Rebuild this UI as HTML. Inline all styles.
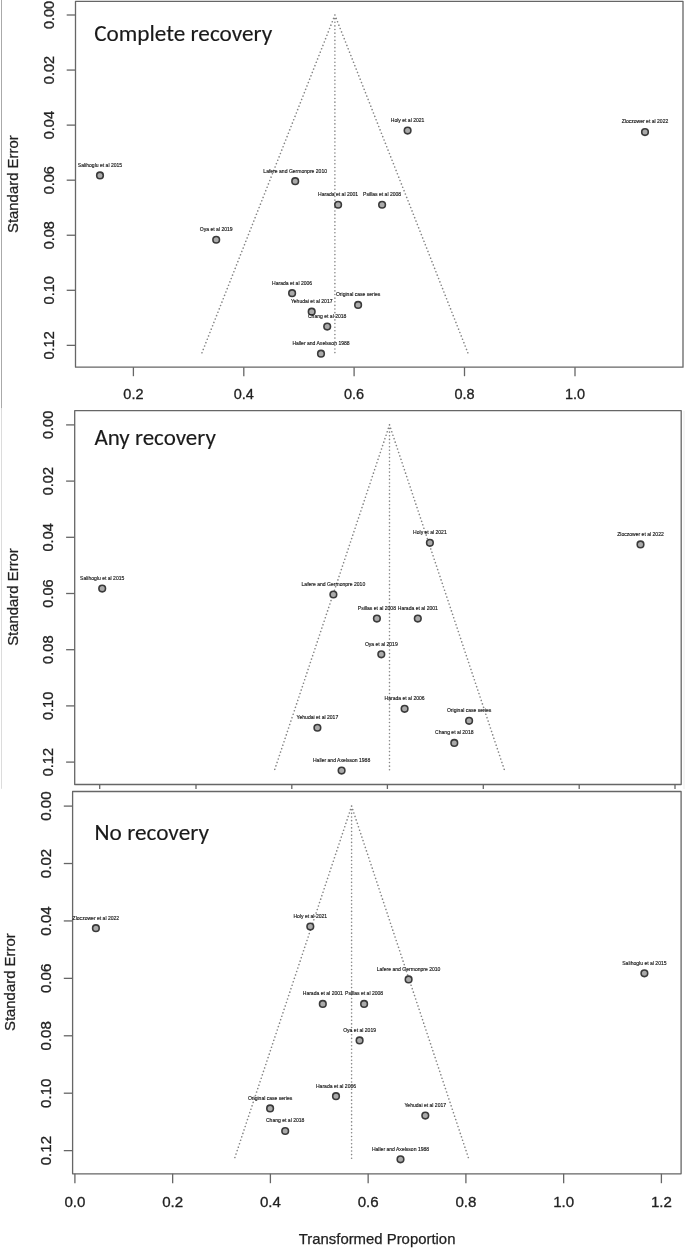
<!DOCTYPE html>
<html><head><meta charset="utf-8"><title>Funnel plots</title>
<style>
html,body{margin:0;padding:0;background:#fff;width:685px;height:1248px;overflow:hidden}
svg{display:block}
text{font-family:"Liberation Sans",Arial,sans-serif;fill:#222}
.tk{stroke:#222;stroke-width:0.3px}
.ax{font-size:14.9px;stroke:#222;stroke-width:0.25px}
.pl{font-size:5.05px;fill:#151515;stroke:#151515;stroke-width:0.14px}
.ttl{font-family:Carlito,"Liberation Sans",Arial,sans-serif;fill:#1a1a1a;stroke:#1a1a1a;stroke-width:0.15px}
.box{fill:none;stroke:#666;stroke-width:1.3;stroke-linejoin:round}
.tick{stroke:#666;stroke-width:1.3}
.fun{fill:none;stroke:#858585;stroke-width:1.6;stroke-dasharray:0.01 3.62;stroke-linecap:round}
.pt{fill:#aaa;stroke:#3a3a3a;stroke-width:1.6}
</style></head><body>
<svg width="685" height="1248" viewBox="0 0 685 1248">
<rect width="685" height="1248" fill="#fff"/>
<g>
<line x1="1.5" y1="0" x2="1.5" y2="408.5" stroke="#aaa" stroke-width="1"/>
<path class="fun" d="M334.9 15 L201.5 353.89 M334.9 15 L468.3 353.89 M334.9 15 L334.9 353.89"/>
<rect class="box" x="75.5" y="1.3" width="607.5" height="365.9"/>
<line class="tick" x1="66.7" y1="15" x2="75.5" y2="15"/>
<text class="tk" font-size="14.5" text-anchor="middle" transform="translate(54 15) rotate(-90)">0.00</text>
<line class="tick" x1="66.7" y1="70.06" x2="75.5" y2="70.06"/>
<text class="tk" font-size="14.5" text-anchor="middle" transform="translate(54 70.06) rotate(-90)">0.02</text>
<line class="tick" x1="66.7" y1="125.12" x2="75.5" y2="125.12"/>
<text class="tk" font-size="14.5" text-anchor="middle" transform="translate(54 125.12) rotate(-90)">0.04</text>
<line class="tick" x1="66.7" y1="180.18" x2="75.5" y2="180.18"/>
<text class="tk" font-size="14.5" text-anchor="middle" transform="translate(54 180.18) rotate(-90)">0.06</text>
<line class="tick" x1="66.7" y1="235.24" x2="75.5" y2="235.24"/>
<text class="tk" font-size="14.5" text-anchor="middle" transform="translate(54 235.24) rotate(-90)">0.08</text>
<line class="tick" x1="66.7" y1="290.3" x2="75.5" y2="290.3"/>
<text class="tk" font-size="14.5" text-anchor="middle" transform="translate(54 290.3) rotate(-90)">0.10</text>
<line class="tick" x1="66.7" y1="345.36" x2="75.5" y2="345.36"/>
<text class="tk" font-size="14.5" text-anchor="middle" transform="translate(54 345.36) rotate(-90)">0.12</text>
<line class="tick" x1="133.4" y1="367.2" x2="133.4" y2="376.2"/>
<text class="tk" font-size="14.5" text-anchor="middle" x="133.4" y="398.8">0.2</text>
<line class="tick" x1="243.8" y1="367.2" x2="243.8" y2="376.2"/>
<text class="tk" font-size="14.5" text-anchor="middle" x="243.8" y="398.8">0.4</text>
<line class="tick" x1="354.1" y1="367.2" x2="354.1" y2="376.2"/>
<text class="tk" font-size="14.5" text-anchor="middle" x="354.1" y="398.8">0.6</text>
<line class="tick" x1="464.5" y1="367.2" x2="464.5" y2="376.2"/>
<text class="tk" font-size="14.5" text-anchor="middle" x="464.5" y="398.8">0.8</text>
<line class="tick" x1="575" y1="367.2" x2="575" y2="376.2"/>
<text class="tk" font-size="14.5" text-anchor="middle" x="575" y="398.8">1.0</text>
<text class="ax" font-size="14.7" text-anchor="middle" transform="translate(18.2 184.2) rotate(-90)">Standard Error</text>
<circle class="pt" cx="407.6" cy="130.54" r="3.3"/>
<text class="pl" text-anchor="middle" x="407.6" y="121.94">Holy et al 2021</text>
<circle class="pt" cx="645" cy="132.06" r="3.3"/>
<text class="pl" text-anchor="middle" x="645" y="123.46">Zloczower et al 2022</text>
<circle class="pt" cx="100" cy="175.39" r="3.3"/>
<text class="pl" text-anchor="middle" x="100" y="166.79">Salihoglu et al 2015</text>
<circle class="pt" cx="295.2" cy="181.17" r="3.3"/>
<text class="pl" text-anchor="middle" x="295.2" y="172.57">Lafere and Germonpre 2010</text>
<circle class="pt" cx="338.1" cy="204.74" r="3.3"/>
<text class="pl" text-anchor="middle" x="338.1" y="196.14">Harada et al 2001</text>
<circle class="pt" cx="382.1" cy="204.74" r="3.3"/>
<text class="pl" text-anchor="middle" x="382.1" y="196.14">Psillas et al 2008</text>
<circle class="pt" cx="216.2" cy="239.73" r="3.3"/>
<text class="pl" text-anchor="middle" x="216.2" y="231.13">Oya et al 2019</text>
<circle class="pt" cx="292.1" cy="293.14" r="3.3"/>
<text class="pl" text-anchor="middle" x="292.1" y="284.54">Harada et al 2006</text>
<circle class="pt" cx="358.1" cy="304.92" r="3.3"/>
<text class="pl" text-anchor="middle" x="358.1" y="296.32">Original case series</text>
<circle class="pt" cx="311.7" cy="311.72" r="3.3"/>
<text class="pl" text-anchor="middle" x="311.7" y="303.12">Yehudai et al 2017</text>
<circle class="pt" cx="327.2" cy="326.56" r="3.3"/>
<text class="pl" text-anchor="middle" x="327.2" y="317.96">Chang et al 2018</text>
<circle class="pt" cx="321" cy="353.7" r="3.3"/>
<text class="pl" text-anchor="middle" x="321" y="345.1">Haller and Axelsson 1988</text>
<text class="ttl" font-size="22.4" x="94.2" y="40.8" textLength="178.0" lengthAdjust="spacingAndGlyphs">Complete recovery</text>
</g>
<g>
<line x1="1.5" y1="408.5" x2="1.5" y2="788.8" stroke="#dcdcdc" stroke-width="1"/>
<rect x="683" y="411" width="2" height="378" fill="#f6f6f6"/>
<path class="fun" d="M389.5 424.9 L274.3 770.81 M389.5 424.9 L504.7 770.81 M389.5 424.9 L389.5 770.81"/>
<rect class="box" x="74.7" y="410.7" width="606.5" height="373.8"/>
<line class="tick" x1="66.1" y1="424.9" x2="74.7" y2="424.9"/>
<text class="tk" font-size="14.6" text-anchor="middle" transform="translate(53 424.9) rotate(-90)">0.00</text>
<line class="tick" x1="66.1" y1="481.1" x2="74.7" y2="481.1"/>
<text class="tk" font-size="14.6" text-anchor="middle" transform="translate(53 481.1) rotate(-90)">0.02</text>
<line class="tick" x1="66.1" y1="537.3" x2="74.7" y2="537.3"/>
<text class="tk" font-size="14.6" text-anchor="middle" transform="translate(53 537.3) rotate(-90)">0.04</text>
<line class="tick" x1="66.1" y1="593.5" x2="74.7" y2="593.5"/>
<text class="tk" font-size="14.6" text-anchor="middle" transform="translate(53 593.5) rotate(-90)">0.06</text>
<line class="tick" x1="66.1" y1="649.7" x2="74.7" y2="649.7"/>
<text class="tk" font-size="14.6" text-anchor="middle" transform="translate(53 649.7) rotate(-90)">0.08</text>
<line class="tick" x1="66.1" y1="705.9" x2="74.7" y2="705.9"/>
<text class="tk" font-size="14.6" text-anchor="middle" transform="translate(53 705.9) rotate(-90)">0.10</text>
<line class="tick" x1="66.1" y1="762.1" x2="74.7" y2="762.1"/>
<text class="tk" font-size="14.6" text-anchor="middle" transform="translate(53 762.1) rotate(-90)">0.12</text>
<line class="tick" x1="99.7" y1="784.5" x2="99.7" y2="793.5"/>
<line class="tick" x1="196" y1="784.5" x2="196" y2="793.5"/>
<line class="tick" x1="291.8" y1="784.5" x2="291.8" y2="793.5"/>
<line class="tick" x1="387.4" y1="784.5" x2="387.4" y2="793.5"/>
<line class="tick" x1="483.3" y1="784.5" x2="483.3" y2="793.5"/>
<line class="tick" x1="579.2" y1="784.5" x2="579.2" y2="793.5"/>
<line class="tick" x1="675" y1="784.5" x2="675" y2="793.5"/>
<text class="ax" font-size="14.8" text-anchor="middle" transform="translate(18 597) rotate(-90)">Standard Error</text>
<circle class="pt" cx="429.9" cy="542.84" r="3.3"/>
<text class="pl" text-anchor="middle" x="429.9" y="534.24">Holy et al 2021</text>
<circle class="pt" cx="640.5" cy="544.38" r="3.3"/>
<text class="pl" text-anchor="middle" x="640.5" y="535.78">Zloczower et al 2022</text>
<circle class="pt" cx="102.2" cy="588.61" r="3.3"/>
<text class="pl" text-anchor="middle" x="102.2" y="580.01">Salihoglu et al 2015</text>
<circle class="pt" cx="333.4" cy="594.51" r="3.3"/>
<text class="pl" text-anchor="middle" x="333.4" y="585.91">Lafere and Germonpre 2010</text>
<circle class="pt" cx="417.8" cy="618.57" r="3.3"/>
<text class="pl" text-anchor="middle" x="417.8" y="609.97">Harada et al 2001</text>
<circle class="pt" cx="376.9" cy="618.57" r="3.3"/>
<text class="pl" text-anchor="middle" x="376.9" y="609.97">Psillas et al 2008</text>
<circle class="pt" cx="381.3" cy="654.28" r="3.3"/>
<text class="pl" text-anchor="middle" x="381.3" y="645.68">Oya et al 2019</text>
<circle class="pt" cx="404.6" cy="708.79" r="3.3"/>
<text class="pl" text-anchor="middle" x="404.6" y="700.19">Harada et al 2006</text>
<circle class="pt" cx="469.1" cy="720.82" r="3.3"/>
<text class="pl" text-anchor="middle" x="469.1" y="712.22">Original case series</text>
<circle class="pt" cx="317.4" cy="727.76" r="3.3"/>
<text class="pl" text-anchor="middle" x="317.4" y="719.16">Yehudai et al 2017</text>
<circle class="pt" cx="454.3" cy="742.91" r="3.3"/>
<text class="pl" text-anchor="middle" x="454.3" y="734.31">Chang et al 2018</text>
<circle class="pt" cx="341.6" cy="770.61" r="3.3"/>
<text class="pl" text-anchor="middle" x="341.6" y="762.01">Haller and Axelsson 1988</text>
<text class="ttl" font-size="22.4" x="94.4" y="444.6" textLength="121.4" lengthAdjust="spacingAndGlyphs">Any recovery</text>
</g>
<g>
<rect x="0" y="789" width="685" height="460" fill="#fff"/>
<path class="fun" d="M351.6 806.1 L234.2 1159.52 M351.6 806.1 L469 1159.52 M351.6 806.1 L351.6 1159.52"/>
<rect class="box" x="72.6" y="791.5" width="608.5" height="382.3"/>
<line class="tick" x1="63.8" y1="806.1" x2="72.6" y2="806.1"/>
<text class="tk" font-size="15.1" text-anchor="middle" transform="translate(51.1 806.1) rotate(-90)">0.00</text>
<line class="tick" x1="63.8" y1="863.52" x2="72.6" y2="863.52"/>
<text class="tk" font-size="15.1" text-anchor="middle" transform="translate(51.1 863.52) rotate(-90)">0.02</text>
<line class="tick" x1="63.8" y1="920.94" x2="72.6" y2="920.94"/>
<text class="tk" font-size="15.1" text-anchor="middle" transform="translate(51.1 920.94) rotate(-90)">0.04</text>
<line class="tick" x1="63.8" y1="978.36" x2="72.6" y2="978.36"/>
<text class="tk" font-size="15.1" text-anchor="middle" transform="translate(51.1 978.36) rotate(-90)">0.06</text>
<line class="tick" x1="63.8" y1="1035.78" x2="72.6" y2="1035.78"/>
<text class="tk" font-size="15.1" text-anchor="middle" transform="translate(51.1 1035.78) rotate(-90)">0.08</text>
<line class="tick" x1="63.8" y1="1093.2" x2="72.6" y2="1093.2"/>
<text class="tk" font-size="15.1" text-anchor="middle" transform="translate(51.1 1093.2) rotate(-90)">0.10</text>
<line class="tick" x1="63.8" y1="1150.62" x2="72.6" y2="1150.62"/>
<text class="tk" font-size="15.1" text-anchor="middle" transform="translate(51.1 1150.62) rotate(-90)">0.12</text>
<line class="tick" x1="74.9" y1="1173.8" x2="74.9" y2="1183.2"/>
<text class="tk" font-size="15.1" text-anchor="middle" x="74.9" y="1206.6">0.0</text>
<line class="tick" x1="172.65" y1="1173.8" x2="172.65" y2="1183.2"/>
<text class="tk" font-size="15.1" text-anchor="middle" x="172.65" y="1206.6">0.2</text>
<line class="tick" x1="270.4" y1="1173.8" x2="270.4" y2="1183.2"/>
<text class="tk" font-size="15.1" text-anchor="middle" x="270.4" y="1206.6">0.4</text>
<line class="tick" x1="368.15" y1="1173.8" x2="368.15" y2="1183.2"/>
<text class="tk" font-size="15.1" text-anchor="middle" x="368.15" y="1206.6">0.6</text>
<line class="tick" x1="465.9" y1="1173.8" x2="465.9" y2="1183.2"/>
<text class="tk" font-size="15.1" text-anchor="middle" x="465.9" y="1206.6">0.8</text>
<line class="tick" x1="563.65" y1="1173.8" x2="563.65" y2="1183.2"/>
<text class="tk" font-size="15.1" text-anchor="middle" x="563.65" y="1206.6">1.0</text>
<line class="tick" x1="661.4" y1="1173.8" x2="661.4" y2="1183.2"/>
<text class="tk" font-size="15.1" text-anchor="middle" x="661.4" y="1206.6">1.2</text>
<text class="ax" font-size="15.7" text-anchor="middle" transform="translate(15.3 982.2) rotate(-90)">Standard Error</text>
<circle class="pt" cx="310.3" cy="926.6" r="3.3"/>
<text class="pl" text-anchor="middle" x="310.3" y="918">Holy et al 2021</text>
<circle class="pt" cx="95.9" cy="928.17" r="3.3"/>
<text class="pl" text-anchor="middle" x="95.9" y="919.57">Zloczower et al 2022</text>
<circle class="pt" cx="644.4" cy="973.36" r="3.3"/>
<text class="pl" text-anchor="middle" x="644.4" y="964.76">Salihoglu et al 2015</text>
<circle class="pt" cx="408.6" cy="979.39" r="3.3"/>
<text class="pl" text-anchor="middle" x="408.6" y="970.79">Lafere and Germonpre 2010</text>
<circle class="pt" cx="322.8" cy="1003.97" r="3.3"/>
<text class="pl" text-anchor="middle" x="322.8" y="995.37">Harada et al 2001</text>
<circle class="pt" cx="364.1" cy="1003.97" r="3.3"/>
<text class="pl" text-anchor="middle" x="364.1" y="995.37">Psillas et al 2008</text>
<circle class="pt" cx="359.6" cy="1040.46" r="3.3"/>
<text class="pl" text-anchor="middle" x="359.6" y="1031.86">Oya et al 2019</text>
<circle class="pt" cx="336" cy="1096.16" r="3.3"/>
<text class="pl" text-anchor="middle" x="336" y="1087.56">Harada et al 2006</text>
<circle class="pt" cx="270.1" cy="1108.45" r="3.3"/>
<text class="pl" text-anchor="middle" x="270.1" y="1099.85">Original case series</text>
<circle class="pt" cx="425.3" cy="1115.54" r="3.3"/>
<text class="pl" text-anchor="middle" x="425.3" y="1106.94">Yehudai et al 2017</text>
<circle class="pt" cx="285.2" cy="1131.01" r="3.3"/>
<text class="pl" text-anchor="middle" x="285.2" y="1122.41">Chang et al 2018</text>
<circle class="pt" cx="400.5" cy="1159.32" r="3.3"/>
<text class="pl" text-anchor="middle" x="400.5" y="1150.72">Haller and Axelsson 1988</text>
<text class="ttl" font-size="22.1" x="94.6" y="839.8" textLength="114.4" lengthAdjust="spacingAndGlyphs">No recovery</text>
</g>
<text class="ax" text-anchor="middle" x="377.1" y="1244.2">Transformed Proportion</text>
</svg>
</body></html>
